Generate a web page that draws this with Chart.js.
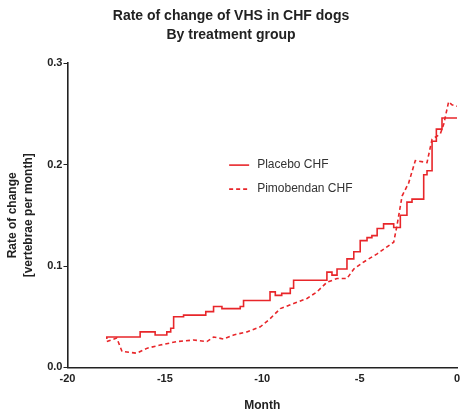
<!DOCTYPE html>
<html>
<head>
<meta charset="utf-8">
<script src="https://cdn.jsdelivr.net/npm/chart.js@4"></script>
<style>
  html, body { margin: 0; padding: 0; background: #fff; }
  #wrap { width: 465px; height: 417px; }
</style>
</head>
<body>
<div id="wrap"><canvas id="vhsChart" width="465" height="417"></canvas></div>
<script>
// values (month, rate)
const placeboMonths = [-17.98, -16.27, -15.5, -14.9, -14.7, -14.55, -14.04, -12.9, -12.5, -12.07, -11.13, -10.96, -10.45, -9.6, -9.33, -9.0, -8.56, -8.39, -8.05, -6.68, -6.42, -6.16, -5.65, -5.3, -4.97, -4.62, -4.37, -4.1, -3.77, -3.25, -2.91, -2.57, -2.31, -1.71, -1.54, -1.28, -1.06, -0.77, -0.09, 0];
const placeboRates = [0.028, 0.030, 0.035, 0.032, 0.035, 0.0386, 0.050, 0.0516, 0.055, 0.060, 0.058, 0.060, 0.066, 0.066, 0.0745, 0.071, 0.073, 0.078, 0.086, 0.086, 0.094, 0.091, 0.097, 0.107, 0.114, 0.125, 0.128, 0.130, 0.137, 0.1415, 0.138, 0.150, 0.163, 0.166, 0.190, 0.194, 0.223, 0.235, 0.246, 0.246];

const pimoMonths = [-17.98, -17.47, -17.2, -16.44, -15.9, -15.24, -14.38, -13.53, -12.84, -12.5, -11.99, -11.47, -10.79, -10.1, -9.6, -9.07, -8.39, -7.7, -7.19, -6.68, -6.16, -5.65, -5.3, -4.79, -4.1, -3.25, -3.08, -2.82, -2.48, -2.14, -1.54, -1.28, -0.86, -0.68, -0.43, -0.26, 0];
const pimoRates = [0.0255, 0.029, 0.0157, 0.014, 0.019, 0.022, 0.0255, 0.027, 0.0255, 0.030, 0.028, 0.032, 0.035, 0.040, 0.048, 0.058, 0.063, 0.068, 0.0745, 0.084, 0.0876, 0.0876, 0.097, 0.104, 0.112, 0.1235, 0.140, 0.169, 0.182, 0.204, 0.202, 0.225, 0.230, 0.240, 0.262, 0.259, 0.2575];

const xTicks = [-20, -15, -10, -5, 0];
const yTicks = [0.0, 0.1, 0.2, 0.3];

const red = '#e8262a';
const toPoints = (xs, ys) => xs.map((x, i) => ({ x: x, y: ys[i] }));

// legend drawn inside the plot, like the reference
const insideLegend = {
  id: 'insideLegend',
  afterDraw(chart) {
    const ctx = chart.ctx;
    const area = chart.chartArea;
    const x0 = area.left + (area.right - area.left) * 0.415;
    const y0 = area.top + (area.bottom - area.top) * 0.335;
    ctx.save();
    ctx.font = '12px "Liberation Sans", Arial, sans-serif';
    ctx.textBaseline = 'middle';
    chart.data.datasets.forEach((ds, i) => {
      const y = y0 + i * 24;
      ctx.strokeStyle = ds.borderColor;
      ctx.lineWidth = 1.6;
      ctx.setLineDash(ds.borderDash || []);
      ctx.beginPath();
      ctx.moveTo(x0, y);
      ctx.lineTo(x0 + 20, y);
      ctx.stroke();
      ctx.setLineDash([]);
      ctx.fillStyle = '#333';
      ctx.fillText(ds.label, x0 + 28, y);
    });
    ctx.restore();
  }
};

const ctx = document.getElementById('vhsChart').getContext('2d');
const vhsChart = new Chart(ctx, {
  type: 'scatter',
  data: {
    datasets: [{
      label: 'Placebo CHF',
      data: toPoints(placeboMonths, placeboRates),
      showLine: true,
      stepped: 'after',
      borderColor: red,
      borderWidth: 1.6,
      pointRadius: 0
    }, {
      label: 'Pimobendan CHF',
      data: toPoints(pimoMonths, pimoRates),
      showLine: true,
      borderColor: red,
      borderWidth: 1.6,
      borderDash: [4, 3],
      pointRadius: 0
    }]
  },
  options: {
    responsive: false,
    animation: false,
    layout: { padding: { left: 5, right: 8, top: 2, bottom: 4 } },
    plugins: {
      legend: { display: false },
      tooltip: { enabled: false },
      title: {
        display: true,
        text: ['Rate of change of VHS in CHF dogs', 'By treatment group'],
        color: '#222',
        font: { family: '"Liberation Sans", Arial, sans-serif', size: 14, weight: 'bold', lineHeight: 1.4 },
        padding: { top: 4, bottom: 18 }
      }
    },
    scales: {
      x: {
        type: 'linear',
        min: -20,
        max: 0,
        afterBuildTicks: (axis) => { axis.ticks = xTicks.map(v => ({ value: v })); },
        grid: { display: false, drawOnChartArea: false, drawTicks: true, tickLength: 4, color: '#222' },
        border: { color: '#222', width: 1.6 },
        ticks: {
          color: '#222',
          padding: 1,
          font: { family: '"Liberation Sans", Arial, sans-serif', size: 11, weight: 'bold' }
        },
        title: {
          display: true,
          text: 'Month',
          color: '#222',
          font: { family: '"Liberation Sans", Arial, sans-serif', size: 12, weight: 'bold' },
          padding: { top: 12, bottom: 0 }
        }
      },
      y: {
        min: 0,
        max: 0.3,
        afterBuildTicks: (axis) => { axis.ticks = yTicks.map(v => ({ value: v })); },
        grid: { display: true, drawOnChartArea: false, drawTicks: true, tickLength: 4, color: '#222' },
        border: { color: '#222', width: 1.6 },
        ticks: {
          color: '#222',
          padding: 1,
          callback: (v) => v.toFixed(1),
          font: { family: '"Liberation Sans", Arial, sans-serif', size: 11, weight: 'bold' }
        },
        title: {
          display: true,
          text: ['Rate of change', '[vertebrae per month]'],
          color: '#222',
          font: { family: '"Liberation Sans", Arial, sans-serif', size: 12, weight: 'bold', lineHeight: 1.3 },
          padding: { top: 0, bottom: 10 }
        }
      }
    }
  },
  plugins: [insideLegend]
});
</script>
</body>
</html>
